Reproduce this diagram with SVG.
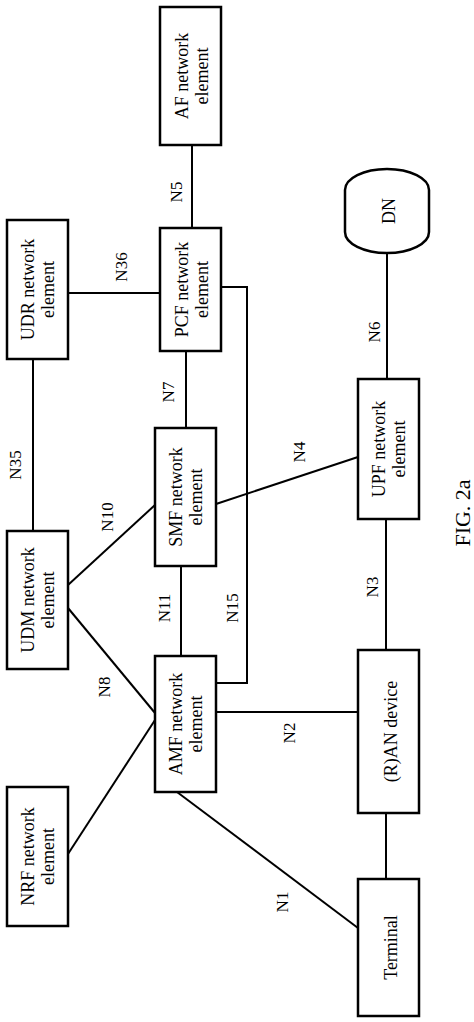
<svg xmlns="http://www.w3.org/2000/svg" width="474" height="1022" viewBox="0 0 474 1022">
<style>
.box{fill:#fff;stroke:#000;stroke-width:2.5}
.ln{fill:none;stroke:#000;stroke-width:2}
.t{font-family:"Liberation Serif","Times New Roman",serif;font-size:18px;text-anchor:middle;fill:#000}
.lb{font-family:"Liberation Serif","Times New Roman",serif;font-size:17px;text-anchor:middle;fill:#000}
.fig{font-family:"Liberation Serif","Times New Roman",serif;font-size:22px;text-anchor:middle;fill:#000}
</style>
<rect width="474" height="1022" fill="#fff"/>
<g id="connectors">
<line class="ln" x1="192" y1="145" x2="192" y2="228"/>
<line class="ln" x1="68" y1="293" x2="160" y2="293"/>
<polyline class="ln" points="221,287 247,287 247,683 216,683"/>
<line class="ln" x1="186" y1="351" x2="186" y2="428"/>
<line class="ln" x1="33" y1="359" x2="33" y2="531"/>
<line class="ln" x1="387" y1="253" x2="387" y2="379"/>
<line class="ln" x1="216" y1="504" x2="358" y2="457"/>
<line class="ln" x1="68" y1="585" x2="155" y2="505"/>
<line class="ln" x1="68" y1="608" x2="155" y2="713"/>
<line class="ln" x1="68" y1="854" x2="155" y2="720"/>
<line class="ln" x1="181" y1="566" x2="181" y2="656"/>
<line class="ln" x1="386" y1="519" x2="386" y2="650"/>
<line class="ln" x1="216" y1="712" x2="358" y2="712"/>
<line class="ln" x1="386" y1="813" x2="386" y2="879"/>
<line class="ln" x1="177" y1="792" x2="358" y2="928"/>
<g id="labels">
<text class="lb" transform="translate(21,465) rotate(-90)">N35</text>
<text class="lb" transform="translate(127,267) rotate(-90)">N36</text>
<text class="lb" transform="translate(182,192) rotate(-90)">N5</text>
<text class="lb" transform="translate(380,332) rotate(-90)">N6</text>
<text class="lb" transform="translate(174,392) rotate(-90)">N7</text>
<text class="lb" transform="translate(113,517) rotate(-90)">N10</text>
<text class="lb" transform="translate(305,452) rotate(-90)">N4</text>
<text class="lb" transform="translate(170,608) rotate(-90)">N11</text>
<text class="lb" transform="translate(238,608) rotate(-90)">N15</text>
<text class="lb" transform="translate(378,587) rotate(-90)">N3</text>
<text class="lb" transform="translate(110,687) rotate(-90)">N8</text>
<text class="lb" transform="translate(295,733) rotate(-90)">N2</text>
<text class="lb" transform="translate(288,902) rotate(-90)">N1</text>
</g>
</g>
<g id="af"><rect class="box" x="160" y="7" width="61" height="138"/>
<text class="t" transform="translate(187.5,76) rotate(-90)">AF network</text>
<text class="t" transform="translate(207.5,76) rotate(-90)">element</text></g>
<g id="pcf"><rect class="box" x="160" y="228" width="61" height="123"/>
<text class="t" transform="translate(187.5,289.5) rotate(-90)">PCF network</text>
<text class="t" transform="translate(207.5,289.5) rotate(-90)">element</text></g>
<g id="udr"><rect class="box" x="7" y="220" width="61" height="139"/>
<text class="t" transform="translate(34,289.5) rotate(-90)">UDR network</text>
<text class="t" transform="translate(54,289.5) rotate(-90)">element</text></g>
<g id="dn"><path class="box" d="M345,190 A42,21 0 0 1 429,190 L429,232 A42,21 0 0 1 345,232 Z"/>
<text class="t" transform="translate(395,211) rotate(-90)">DN</text></g>
<g id="udm"><rect class="box" x="7" y="531" width="61" height="138"/>
<text class="t" transform="translate(34,600) rotate(-90)">UDM network</text>
<text class="t" transform="translate(54,600) rotate(-90)">element</text></g>
<g id="smf"><rect class="box" x="155" y="428" width="61" height="138"/>
<text class="t" transform="translate(182,497) rotate(-90)">SMF network</text>
<text class="t" transform="translate(202,497) rotate(-90)">element</text></g>
<g id="upf"><rect class="box" x="358" y="379" width="61" height="140"/>
<text class="t" transform="translate(385,449) rotate(-90)">UPF network</text>
<text class="t" transform="translate(405,449) rotate(-90)">element</text></g>
<g id="amf"><rect class="box" x="155" y="656" width="61" height="136"/>
<text class="t" transform="translate(182,724) rotate(-90)">AMF network</text>
<text class="t" transform="translate(202,724) rotate(-90)">element</text></g>
<g id="ran"><rect class="box" x="358" y="650" width="61" height="163"/>
<text class="t" transform="translate(396.5,731.5) rotate(-90)">(R)AN device</text></g>
<g id="terminal"><rect class="box" x="358" y="879" width="61" height="137"/>
<text class="t" transform="translate(397,947.5) rotate(-90)">Terminal</text></g>
<g id="nrf"><rect class="box" x="7" y="787" width="61" height="139"/>
<text class="t" transform="translate(34,856.5) rotate(-90)">NRF network</text>
<text class="t" transform="translate(54,856.5) rotate(-90)">element</text></g>
<text class="fig" transform="translate(470,513) rotate(-90)">FIG. 2a</text>
</svg>
